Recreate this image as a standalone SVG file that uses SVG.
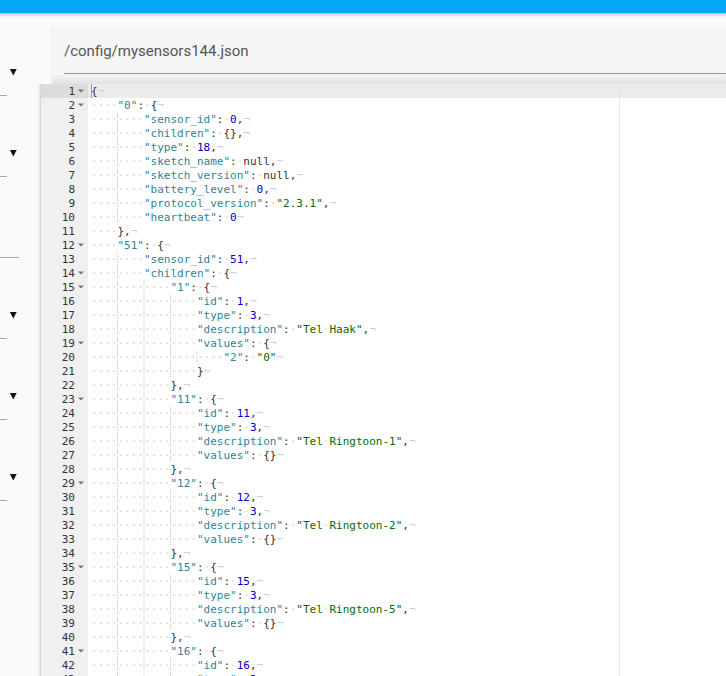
<svg xmlns="http://www.w3.org/2000/svg" width="726" height="676" viewBox="0 0 726 676">
<style>
text{white-space:pre}
.c{font-family:"DejaVu Sans Mono","Liberation Mono",monospace;font-size:11px;fill:#333}
.g{font-family:"DejaVu Sans Mono","Liberation Mono",monospace;font-size:11px;fill:#333;text-anchor:end}
.i{fill:#d0d0d0}.k{fill:#318495}.n{fill:#0000cd}.s{fill:#036a07}
.t{fill:#111}.r{stroke:#aaa;stroke-width:1}.f{fill:#777}
</style>
<defs>
<linearGradient id="sh" x1="0" y1="0" x2="0" y2="1"><stop offset="0" stop-color="#bbb"/><stop offset="1" stop-color="#fafafa"/></linearGradient>
<linearGradient id="sl" x1="0" y1="0" x2="1" y2="0"><stop offset="0" stop-color="#fafafa" stop-opacity="0"/><stop offset="1" stop-color="#ccc"/></linearGradient>
<linearGradient id="sh2" x1="0" y1="0" x2="1" y2="0"><stop offset="0" stop-color="#fafafa" stop-opacity="0"/><stop offset="1" stop-color="#ececec"/></linearGradient>
<linearGradient id="st" x1="0" y1="0" x2="0" y2="1"><stop offset="0" stop-color="#f5f5f5"/><stop offset="1" stop-color="#e2e2e2"/></linearGradient>
<path id="tri" d="M-3.400 -3.300H3.400L0 3.300Z" class="t"/>
<path id="fa" d="M-3 -1.500H3L0 1.500Z" class="f"/>
</defs>
<rect width="726" height="676" fill="#fafafa"/>
<rect width="726" height="13" fill="#03a9f4"/>
<rect y="13" width="726" height="4" fill="url(#sh)"/>
<g id="sidebar">
<use href="#tri" x="13.300" y="72.300"/><use href="#tri" x="13.300" y="153.300"/><use href="#tri" x="13.300" y="315.300"/><use href="#tri" x="13.300" y="396.300"/><use href="#tri" x="13.300" y="477.300"/>
<path d="M0 95.500H7M0 176.500H7M0 257.500H19M0 338.500H7M0 419.500H7M0 500.500H7" class="r"/>
</g>
<g id="header">
<rect x="49" y="27" width="3" height="57" fill="url(#sh2)"/>
<rect x="52" y="27" width="674" height="46" fill="#f5f5f5"/>
<rect x="52" y="74" width="674" height="10" fill="url(#st)"/>
<text x="64" y="56" font-family="Roboto,sans-serif" font-size="15" fill="#555">/config/mysensors144.json</text>
<rect x="64" y="73" width="662" height="1" fill="#9a9a9a"/>
</g>
<g id="editor">
<rect x="37" y="84" width="4" height="592" fill="url(#sl)"/>
<rect x="41" y="84" width="685" height="592" fill="#fff"/>
<rect x="41" y="84" width="47" height="592" fill="#f0f0f0"/>
<rect x="41" y="84" width="47" height="14" fill="#dcdcdc"/>
<rect x="88" y="84" width="638" height="14" fill="#ebebeb"/>
<rect x="619" y="84" width="1" height="592" fill="#e4e4e4"/>
<rect x="91" y="84" width="1" height="14" fill="#999"/>
<path d="M117.500 112V224M117.500 252V676M144 280V676M170.500 294V378M170.500 406V462M170.500 490V546M170.500 574V630M170.500 658V676M197 350V364" stroke="#c8c8c8" stroke-dasharray="1 1" fill="none"/>
<g id="gutter">
<text class="g" x="75" y="95">1</text><text class="g" x="75" y="109">2</text><text class="g" x="75" y="123">3</text><text class="g" x="75" y="137">4</text><text class="g" x="75" y="151">5</text><text class="g" x="75" y="165">6</text><text class="g" x="75" y="179">7</text><text class="g" x="75" y="193">8</text><text class="g" x="75" y="207">9</text><text class="g" x="75" y="221">10</text><text class="g" x="75" y="235">11</text><text class="g" x="75" y="249">12</text><text class="g" x="75" y="263">13</text><text class="g" x="75" y="277">14</text><text class="g" x="75" y="291">15</text><text class="g" x="75" y="305">16</text><text class="g" x="75" y="319">17</text><text class="g" x="75" y="333">18</text><text class="g" x="75" y="347">19</text><text class="g" x="75" y="361">20</text><text class="g" x="75" y="375">21</text><text class="g" x="75" y="389">22</text><text class="g" x="75" y="403">23</text><text class="g" x="75" y="417">24</text><text class="g" x="75" y="431">25</text><text class="g" x="75" y="445">26</text><text class="g" x="75" y="459">27</text><text class="g" x="75" y="473">28</text><text class="g" x="75" y="487">29</text><text class="g" x="75" y="501">30</text><text class="g" x="75" y="515">31</text><text class="g" x="75" y="529">32</text><text class="g" x="75" y="543">33</text><text class="g" x="75" y="557">34</text><text class="g" x="75" y="571">35</text><text class="g" x="75" y="585">36</text><text class="g" x="75" y="599">37</text><text class="g" x="75" y="613">38</text><text class="g" x="75" y="627">39</text><text class="g" x="75" y="641">40</text><text class="g" x="75" y="655">41</text><text class="g" x="75" y="669">42</text><text class="g" x="75" y="683">43</text>
<use href="#fa" x="81" y="91"/><use href="#fa" x="81" y="105"/><use href="#fa" x="81" y="245"/><use href="#fa" x="81" y="273"/><use href="#fa" x="81" y="287"/><use href="#fa" x="81" y="343"/><use href="#fa" x="81" y="399"/><use href="#fa" x="81" y="483"/><use href="#fa" x="81" y="567"/><use href="#fa" x="81" y="651"/>
</g>
<g id="code">
<text class="c" x="91" y="95">{<tspan class="i">¬</tspan></text>
<text class="c" x="91" y="109"><tspan class="i">····</tspan><tspan class="k">"0"</tspan>:<tspan class="i">·</tspan>{<tspan class="i">¬</tspan></text>
<text class="c" x="91" y="123"><tspan class="i">········</tspan><tspan class="k">"sensor_id"</tspan>:<tspan class="i">·</tspan><tspan class="n">0</tspan>,<tspan class="i">¬</tspan></text>
<text class="c" x="91" y="137"><tspan class="i">········</tspan><tspan class="k">"children"</tspan>:<tspan class="i">·</tspan>{},<tspan class="i">¬</tspan></text>
<text class="c" x="91" y="151"><tspan class="i">········</tspan><tspan class="k">"type"</tspan>:<tspan class="i">·</tspan><tspan class="n">18</tspan>,<tspan class="i">¬</tspan></text>
<text class="c" x="91" y="165"><tspan class="i">········</tspan><tspan class="k">"sketch_name"</tspan>:<tspan class="i">·</tspan>null,<tspan class="i">¬</tspan></text>
<text class="c" x="91" y="179"><tspan class="i">········</tspan><tspan class="k">"sketch_version"</tspan>:<tspan class="i">·</tspan>null,<tspan class="i">¬</tspan></text>
<text class="c" x="91" y="193"><tspan class="i">········</tspan><tspan class="k">"battery_level"</tspan>:<tspan class="i">·</tspan><tspan class="n">0</tspan>,<tspan class="i">¬</tspan></text>
<text class="c" x="91" y="207"><tspan class="i">········</tspan><tspan class="k">"protocol_version"</tspan>:<tspan class="i">·</tspan><tspan class="s">"2.3.1"</tspan>,<tspan class="i">¬</tspan></text>
<text class="c" x="91" y="221"><tspan class="i">········</tspan><tspan class="k">"heartbeat"</tspan>:<tspan class="i">·</tspan><tspan class="n">0</tspan><tspan class="i">¬</tspan></text>
<text class="c" x="91" y="235"><tspan class="i">····</tspan>},<tspan class="i">¬</tspan></text>
<text class="c" x="91" y="249"><tspan class="i">····</tspan><tspan class="k">"51"</tspan>:<tspan class="i">·</tspan>{<tspan class="i">¬</tspan></text>
<text class="c" x="91" y="263"><tspan class="i">········</tspan><tspan class="k">"sensor_id"</tspan>:<tspan class="i">·</tspan><tspan class="n">51</tspan>,<tspan class="i">¬</tspan></text>
<text class="c" x="91" y="277"><tspan class="i">········</tspan><tspan class="k">"children"</tspan>:<tspan class="i">·</tspan>{<tspan class="i">¬</tspan></text>
<text class="c" x="91" y="291"><tspan class="i">············</tspan><tspan class="k">"1"</tspan>:<tspan class="i">·</tspan>{<tspan class="i">¬</tspan></text>
<text class="c" x="91" y="305"><tspan class="i">················</tspan><tspan class="k">"id"</tspan>:<tspan class="i">·</tspan><tspan class="n">1</tspan>,<tspan class="i">¬</tspan></text>
<text class="c" x="91" y="319"><tspan class="i">················</tspan><tspan class="k">"type"</tspan>:<tspan class="i">·</tspan><tspan class="n">3</tspan>,<tspan class="i">¬</tspan></text>
<text class="c" x="91" y="333"><tspan class="i">················</tspan><tspan class="k">"description"</tspan>:<tspan class="i">·</tspan><tspan class="s">"Tel<tspan class="i">·</tspan>Haak"</tspan>,<tspan class="i">¬</tspan></text>
<text class="c" x="91" y="347"><tspan class="i">················</tspan><tspan class="k">"values"</tspan>:<tspan class="i">·</tspan>{<tspan class="i">¬</tspan></text>
<text class="c" x="91" y="361"><tspan class="i">····················</tspan><tspan class="k">"2"</tspan>:<tspan class="i">·</tspan><tspan class="s">"0"</tspan><tspan class="i">¬</tspan></text>
<text class="c" x="91" y="375"><tspan class="i">················</tspan>}<tspan class="i">¬</tspan></text>
<text class="c" x="91" y="389"><tspan class="i">············</tspan>},<tspan class="i">¬</tspan></text>
<text class="c" x="91" y="403"><tspan class="i">············</tspan><tspan class="k">"11"</tspan>:<tspan class="i">·</tspan>{<tspan class="i">¬</tspan></text>
<text class="c" x="91" y="417"><tspan class="i">················</tspan><tspan class="k">"id"</tspan>:<tspan class="i">·</tspan><tspan class="n">11</tspan>,<tspan class="i">¬</tspan></text>
<text class="c" x="91" y="431"><tspan class="i">················</tspan><tspan class="k">"type"</tspan>:<tspan class="i">·</tspan><tspan class="n">3</tspan>,<tspan class="i">¬</tspan></text>
<text class="c" x="91" y="445"><tspan class="i">················</tspan><tspan class="k">"description"</tspan>:<tspan class="i">·</tspan><tspan class="s">"Tel<tspan class="i">·</tspan>Ringtoon-1"</tspan>,<tspan class="i">¬</tspan></text>
<text class="c" x="91" y="459"><tspan class="i">················</tspan><tspan class="k">"values"</tspan>:<tspan class="i">·</tspan>{}<tspan class="i">¬</tspan></text>
<text class="c" x="91" y="473"><tspan class="i">············</tspan>},<tspan class="i">¬</tspan></text>
<text class="c" x="91" y="487"><tspan class="i">············</tspan><tspan class="k">"12"</tspan>:<tspan class="i">·</tspan>{<tspan class="i">¬</tspan></text>
<text class="c" x="91" y="501"><tspan class="i">················</tspan><tspan class="k">"id"</tspan>:<tspan class="i">·</tspan><tspan class="n">12</tspan>,<tspan class="i">¬</tspan></text>
<text class="c" x="91" y="515"><tspan class="i">················</tspan><tspan class="k">"type"</tspan>:<tspan class="i">·</tspan><tspan class="n">3</tspan>,<tspan class="i">¬</tspan></text>
<text class="c" x="91" y="529"><tspan class="i">················</tspan><tspan class="k">"description"</tspan>:<tspan class="i">·</tspan><tspan class="s">"Tel<tspan class="i">·</tspan>Ringtoon-2"</tspan>,<tspan class="i">¬</tspan></text>
<text class="c" x="91" y="543"><tspan class="i">················</tspan><tspan class="k">"values"</tspan>:<tspan class="i">·</tspan>{}<tspan class="i">¬</tspan></text>
<text class="c" x="91" y="557"><tspan class="i">············</tspan>},<tspan class="i">¬</tspan></text>
<text class="c" x="91" y="571"><tspan class="i">············</tspan><tspan class="k">"15"</tspan>:<tspan class="i">·</tspan>{<tspan class="i">¬</tspan></text>
<text class="c" x="91" y="585"><tspan class="i">················</tspan><tspan class="k">"id"</tspan>:<tspan class="i">·</tspan><tspan class="n">15</tspan>,<tspan class="i">¬</tspan></text>
<text class="c" x="91" y="599"><tspan class="i">················</tspan><tspan class="k">"type"</tspan>:<tspan class="i">·</tspan><tspan class="n">3</tspan>,<tspan class="i">¬</tspan></text>
<text class="c" x="91" y="613"><tspan class="i">················</tspan><tspan class="k">"description"</tspan>:<tspan class="i">·</tspan><tspan class="s">"Tel<tspan class="i">·</tspan>Ringtoon-5"</tspan>,<tspan class="i">¬</tspan></text>
<text class="c" x="91" y="627"><tspan class="i">················</tspan><tspan class="k">"values"</tspan>:<tspan class="i">·</tspan>{}<tspan class="i">¬</tspan></text>
<text class="c" x="91" y="641"><tspan class="i">············</tspan>},<tspan class="i">¬</tspan></text>
<text class="c" x="91" y="655"><tspan class="i">············</tspan><tspan class="k">"16"</tspan>:<tspan class="i">·</tspan>{<tspan class="i">¬</tspan></text>
<text class="c" x="91" y="669"><tspan class="i">················</tspan><tspan class="k">"id"</tspan>:<tspan class="i">·</tspan><tspan class="n">16</tspan>,<tspan class="i">¬</tspan></text>
<text class="c" x="91" y="683"><tspan class="i">················</tspan><tspan class="k">"type"</tspan>:<tspan class="i">·</tspan><tspan class="n">3</tspan>,<tspan class="i">¬</tspan></text>
</g>
</g>
</svg>
